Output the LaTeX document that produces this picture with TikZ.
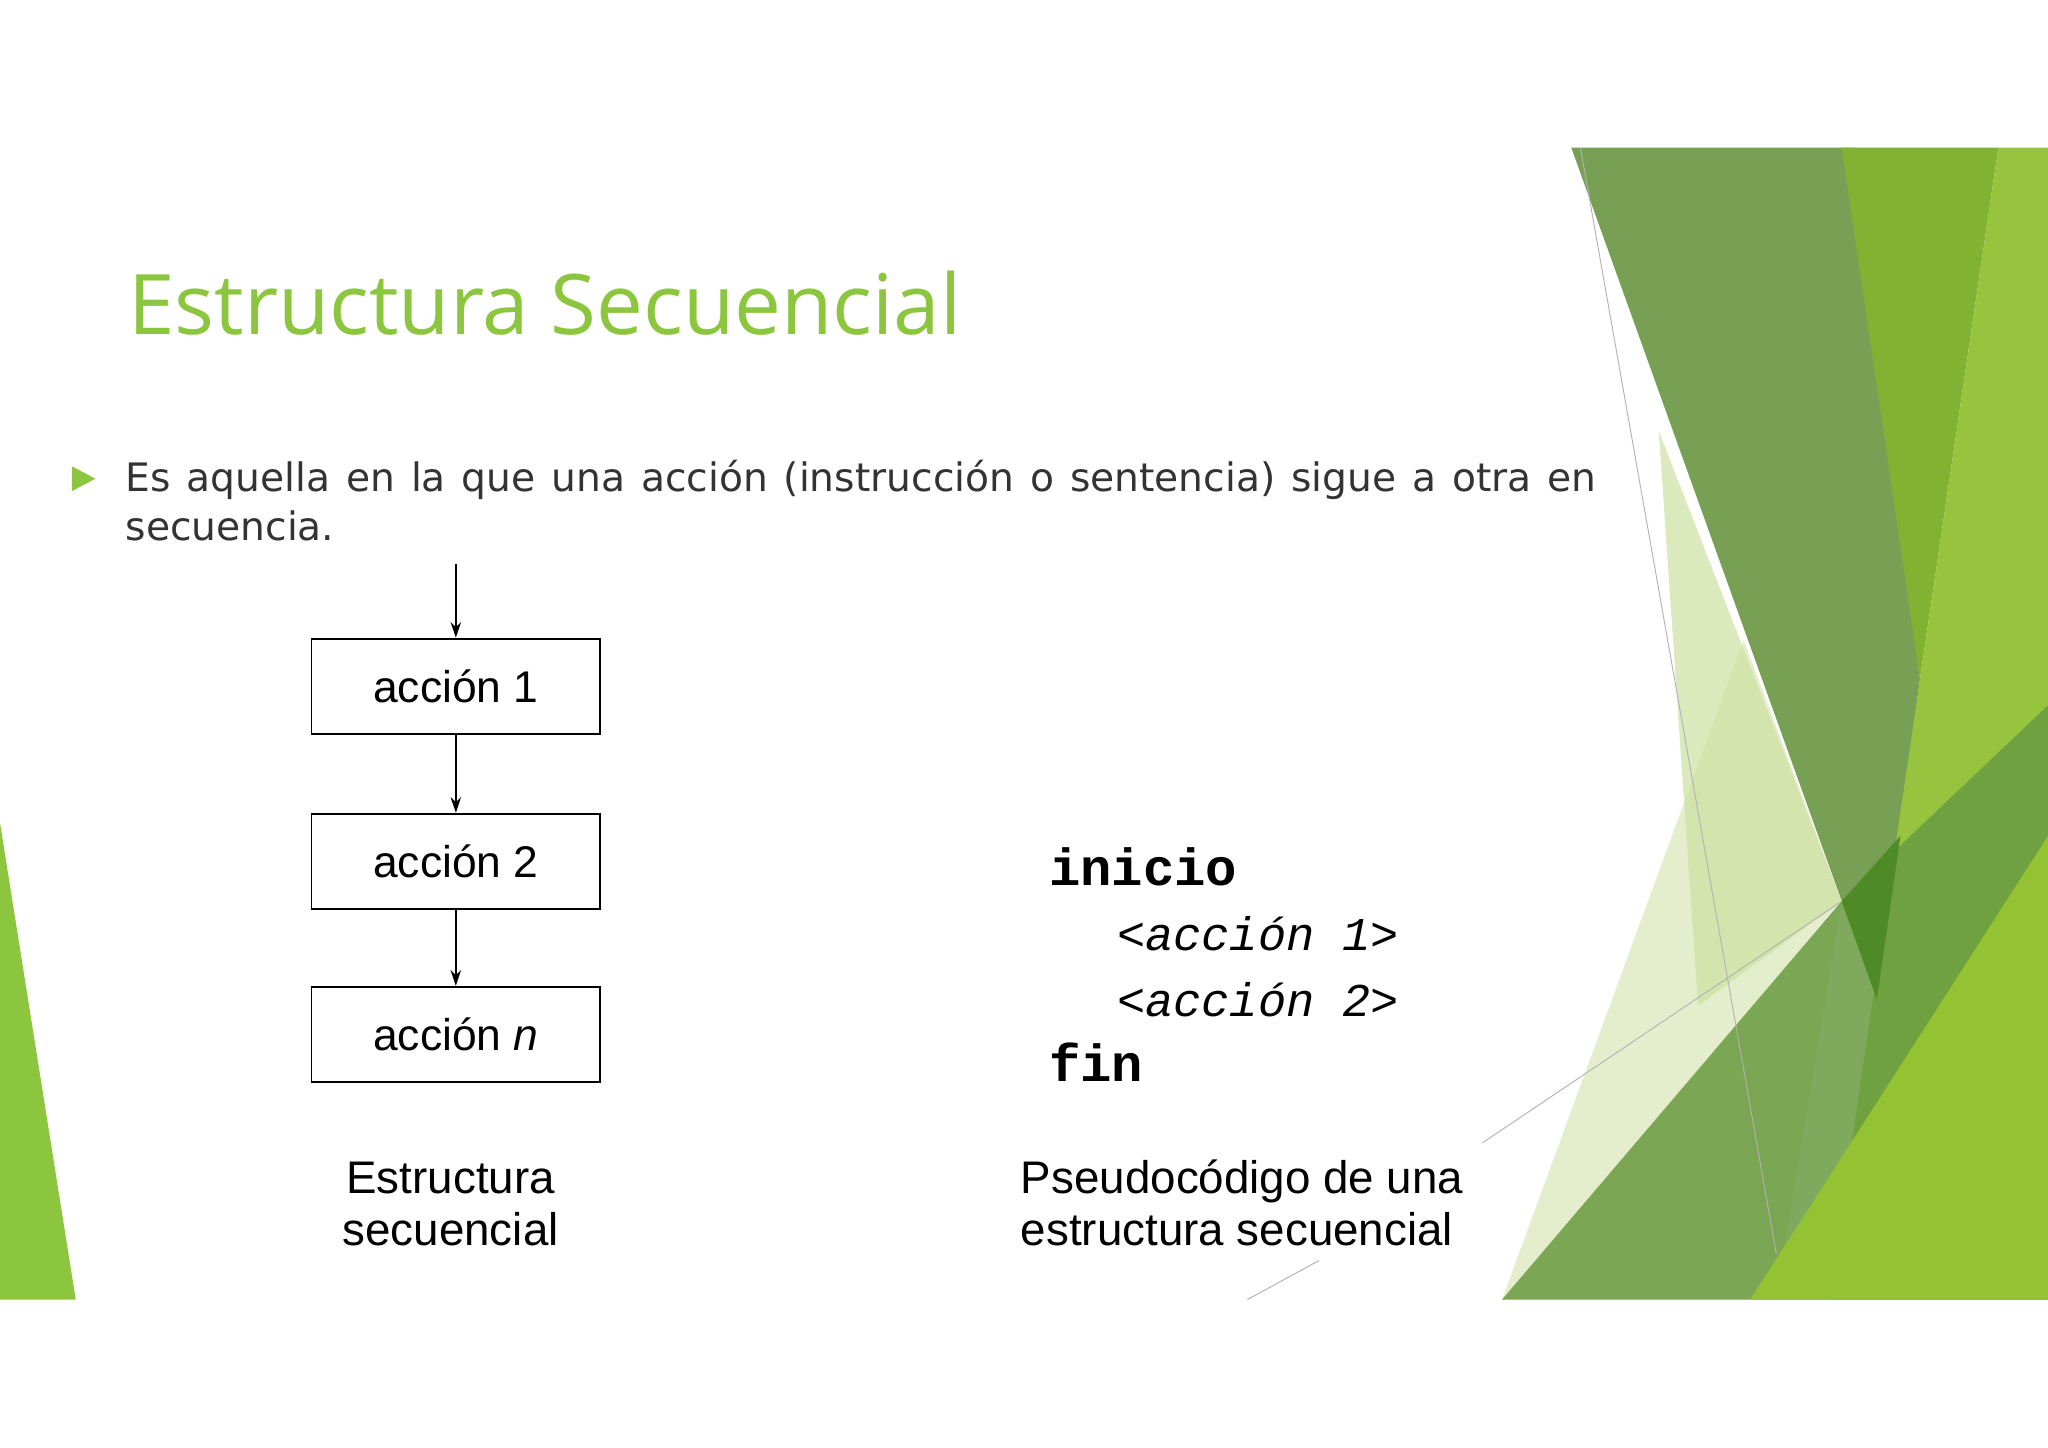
\documentclass[tikz,border=0pt]{standalone}
\usepackage{fontspec}
\usetikzlibrary{arrows.meta}
\setmainfont{Open Sans}
\newfontfamily\helv{Liberation Sans}
\newfontfamily\cour{Liberation Mono}
\newfontfamily\dejv{DejaVu Sans}
\definecolor{tgreen}{HTML}{8CC63F}
\definecolor{olive}{HTML}{77A055}
\begin{document}
\begin{tikzpicture}[x=1pt,y=-1pt,
  box/.style={draw,line width=1.5pt,minimum width=221pt,minimum height=73pt,font=\helv\fontsize{34}{36}\selectfont},
  arr/.style={-{Stealth[length=12pt,width=8pt]},line width=1.5pt},
  gl/.style={gray!60,line width=0.7pt}]
\useasboundingbox (0,0) rectangle (1568,1108);
\fill[white] (0,0) rectangle (1568,1108);
% left triangle
\fill[tgreen] (0,630) -- (0,995) -- (58,995) -- cycle;
% right decoration
\fill[olive] (1203,113) -- (1420,113) -- (1470,520) -- (1437,765) -- cycle;
\fill[color={rgb,255:red,130;green,178;blue,50}] (1410,113) -- (1530,113) -- (1470,520) -- cycle;
\fill[color={rgb,255:red,151;green,196;blue,62}] (1530,113) -- (1568,113) -- (1568,995) -- (1400,995) -- (1470,520) -- cycle;
\fill[color={rgb,255:red,226;green,237;blue,200},opacity=0.9] (1150,995) -- (1335,490) -- (1410,690) -- (1360,995) -- cycle;
\fill[color={rgb,255:red,205;green,225;blue,160},opacity=0.7] (1270,330) -- (1410,690) -- (1300,770) -- cycle;
\fill[color={rgb,255:red,105;green,155;blue,65},opacity=0.85] (1150,995) -- (1410,690) -- (1568,540) -- (1568,995) -- cycle;
\fill[color={rgb,255:red,147;green,194;blue,50}] (1340,995) -- (1568,640) -- (1568,995) -- cycle;
\fill[color={rgb,255:red,78;green,138;blue,37}] (1410,690) -- (1455,640) -- (1437,765) -- cycle;
\draw[gl] (1210,113) -- (1360,960);
\draw[gl] (1135,875) -- (1410,690);
\draw[gl] (955,995) -- (1010,965);
% title
\node[anchor=base west,inner sep=0,text=tgreen,font=\fontsize{64}{70}\selectfont] (title) at (98,256) {Estructura Secuencial};
% bullet
\fill[tgreen] (55,357) -- (73,366.5) -- (55,376) -- cycle;
\node[anchor=base west,inner sep=0,text=black!80,font=\dejv\fontsize{30}{38}\selectfont,text width=1126pt,align=justify] (body) at (96,376)
 {Es\hfill aquella\hfill en\hfill la\hfill que\hfill una\hfill acción\hfill (instrucción\hfill o\hfill sentencia)\hfill sigue\hfill a\hfill otra\hfill en\\secuencia.};
% flowchart
\coordinate (start) at (349,432);
\node[box] (a1) at (349,525.5) {acción 1};
\node[box] (a2) at (349,659.5) {acción 2};
\node[box] (an) at (349,792) {acción \textit{n}};
\draw[arr] (start) -- (a1.north);
\draw[arr] (a1) -- (a2);
\draw[arr] (a2) -- (an);
\node[align=center,font=\helv\fontsize{35}{40}\selectfont] (cap1) at (345,922) {Estructura\\secuencial};
% pseudocode
\node[anchor=base west,inner sep=0,font=\cour\bfseries\fontsize{40}{40}\selectfont] (ini) at (803,678) {inicio};
\node[anchor=base west,inner sep=0,font=\cour\itshape\fontsize{36}{40}\selectfont] (p1) at (855,728) {<acción 1>};
\node[anchor=base west,inner sep=0,font=\cour\itshape\fontsize{36}{40}\selectfont] (p2) at (855,778) {<acción 2>};
\node[anchor=base west,inner sep=0,font=\cour\bfseries\fontsize{40}{40}\selectfont] (fin) at (803,828) {fin};
\node[align=left,font=\helv\fontsize{35}{40}\selectfont] (cap2) at (951,921) {Pseudocódigo de una\\estructura secuencial};
\end{tikzpicture}
\end{document}
